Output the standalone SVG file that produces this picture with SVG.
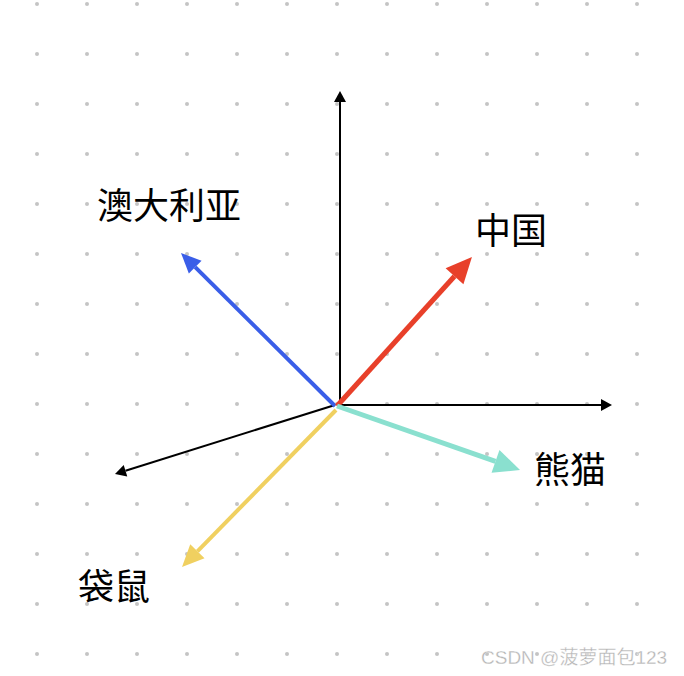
<svg xmlns="http://www.w3.org/2000/svg" width="684" height="676" viewBox="0 0 684 676">
<style>
.lbl{font-family:"Noto Sans CJK SC","Noto Sans",sans-serif;font-size:36px;fill:#000}
.ax{stroke:#000;stroke-width:2;fill:none}
.wm{font-family:"Liberation Sans","Noto Sans CJK SC",sans-serif;font-size:19px;fill:#b4b4b4;stroke:#ffffff;stroke-width:0.3}
</style>
<defs>
<pattern id="dots" x="0" y="0" width="50" height="50" patternUnits="userSpaceOnUse">
<circle cx="37" cy="4" r="2" fill="#c4c4c4"/>
</pattern>
<marker id="mk" markerUnits="userSpaceOnUse" markerWidth="12" markerHeight="12" refX="0" refY="6" orient="auto" overflow="visible">
<path d="M0,0 L11,6 L0,12 z" fill="#000"/>
</marker>
<marker id="mb" markerUnits="userSpaceOnUse" markerWidth="20" markerHeight="18" refX="0" refY="9" orient="auto" overflow="visible">
<path d="M0,0 L20,9 L0,18 z" fill="#3a5ee8"/>
</marker>
<marker id="mr" markerUnits="userSpaceOnUse" markerWidth="26" markerHeight="24" refX="0" refY="12" orient="auto" overflow="visible">
<path d="M0,0 L26,12 L0,24 z" fill="#e8402a"/>
</marker>
<marker id="mt" markerUnits="userSpaceOnUse" markerWidth="26" markerHeight="24" refX="0" refY="12" orient="auto" overflow="visible">
<path d="M0,0 L26,12 L0,24 z" fill="#8ae0cf"/>
</marker>
<marker id="my" markerUnits="userSpaceOnUse" markerWidth="22" markerHeight="20" refX="0" refY="10" orient="auto" overflow="visible">
<path d="M0,0 L22,10 L0,20 z" fill="#f0d060"/>
</marker>
</defs>
<rect width="684" height="676" fill="#ffffff"/>
<rect width="684" height="676" fill="url(#dots)"/>
<g id="connectors">
<line class="ax" x1="340" y1="405" x2="340" y2="102" marker-end="url(#mk)"/>
<line class="ax" x1="340" y1="405" x2="601" y2="405" marker-end="url(#mk)"/>
<line class="ax" x1="335" y1="405" x2="125.5" y2="470.7" marker-end="url(#mk)"/>
<line x1="335" y1="406" x2="195.2" y2="267.1" stroke="#3a5ee8" stroke-width="4" marker-end="url(#mb)"/>
<line x1="337" y1="406" x2="454.5" y2="276.3" stroke="#e8402a" stroke-width="5" marker-end="url(#mr)"/>
<line x1="337" y1="406" x2="495.5" y2="461.4" stroke="#8ae0cf" stroke-width="5" marker-end="url(#mt)"/>
<line x1="336" y1="410" x2="197.4" y2="551.3" stroke="#f0d060" stroke-width="4" marker-end="url(#my)"/>
</g>
<g id="australia"><text class="lbl" x="97" y="219">澳大利亚</text></g>
<g id="china"><text class="lbl" x="475" y="244">中国</text></g>
<g id="panda"><text class="lbl" x="534" y="483">熊猫</text></g>
<g id="kangaroo"><text class="lbl" x="78" y="600">袋鼠</text></g>
<g id="watermark"><text class="wm" x="481" y="664">CSDN @菠萝面包123</text></g>
</svg>
